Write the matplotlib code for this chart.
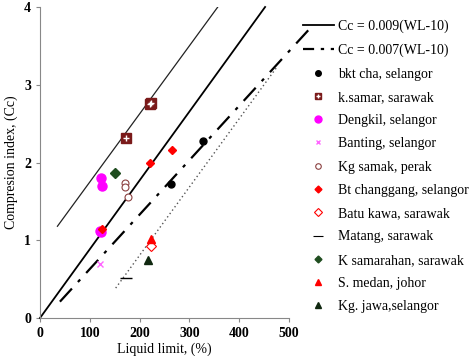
import matplotlib
matplotlib.use("Agg")
import matplotlib.pyplot as plt
from matplotlib.lines import Line2D
import numpy as np

plt.rcParams['font.family'] = ['Liberation Serif', 'DejaVu Serif']

# reference lines
solid_x = [0, 452]              # Cc = 0.009(WL-10)
solid_y = [0, 4.0]
wl_dashdot = [40, 540]          # Cc = 0.007(WL-10)
upper_x = [35, 357]
upper_y = [1.18, 4.0]
dotted_x = [152, 476]
dotted_y = [0.385, 3.23]

# data points (liquid limit, Cc)
bkt_cha_x = [327, 263]
bkt_cha_y = [2.28, 1.72]
ksamar_x = [221, 173, 223]
ksamar_y = [2.75, 2.32, 2.77]
dengkil_x = [122, 125, 123, 120]
dengkil_y = [1.80, 1.70, 1.10, 1.12]
banting_x = [121]
banting_y = [0.69]
kgsamak_x = [171, 171, 177]
kgsamak_y = [1.74, 1.68, 1.56]
btchang_x = [220, 265, 125]
btchang_y = [1.99, 2.16, 1.15]
batukawa_x = [222]
batukawa_y = [0.92]
matang_x = [173]
matang_y = [0.52]
ksamarahan_x = [151]
ksamarahan_y = [1.86]
smedan_x = [222]
smedan_y = [1.01]
kgjawa_x = [217]
kgjawa_y = [0.75]

fig = plt.figure(figsize=(4.74, 3.56), dpi=100)
ax = fig.add_axes([40 / 474, 1 - 318 / 356, 249 / 474, 311 / 356])

ax.plot(solid_x, solid_y, color='black', lw=1.3, clip_on=False)
xd = np.array(wl_dashdot)
ax.plot(xd, 0.007 * (xd - 10), color='black', lw=1.6,
        dashes=(8, 4, 1.5, 4), clip_on=False)
ax.plot(upper_x, upper_y, color='#222222', lw=0.9)
ax.plot(dotted_x, dotted_y, color='#555555', lw=1.0, dashes=(1, 2))

ms = 5
ax.plot(bkt_cha_x, bkt_cha_y, 'o', color='black', ms=ms)
ax.plot(ksamar_x, ksamar_y, 's', color='#7a1a1a', ms=7)
ax.plot(ksamar_x, ksamar_y, '+', color='white', ms=5, mew=1)
ax.plot(dengkil_x, dengkil_y, 'o', color='#ff00ff', ms=6.5)
ax.plot(banting_x, banting_y, 'x', color='#ff66ff', ms=4)
ax.plot(kgsamak_x, kgsamak_y, 'o', mfc='white', mec='#8b4040', ms=5, mew=0.8)
ax.plot(btchang_x, btchang_y, 'D', color='red', ms=4)
ax.plot(batukawa_x, batukawa_y, 'D', mfc='white', mec='red', ms=5, mew=0.8)
ax.plot(matang_x, matang_y, '_', color='black', ms=9, mew=1)
ax.plot(ksamarahan_x, ksamarahan_y, 'D', color='#1f4d1f', ms=5)
ax.plot(smedan_x, smedan_y, '^', color='red', ms=6)
ax.plot(kgjawa_x, kgjawa_y, '^', color='#102810', ms=6)

ax.set_xlim(0, 500)
ax.set_ylim(0, 4)
ax.set_xticks([0, 100, 200, 300, 400, 500])
ax.set_yticks([0, 1, 2, 3, 4])
for s in ['top', 'right']:
    ax.spines[s].set_visible(False)
for s in ['left', 'bottom']:
    ax.spines[s].set_color('#888888')
ax.tick_params(length=3, color='#888888', labelsize=10)
for lab in ax.get_xticklabels() + ax.get_yticklabels():
    lab.set_fontweight('bold')
ax.set_xlabel('Liquid limit, (%)', fontsize=10, labelpad=2)
ax.set_ylabel('Compresion index, (Cc)', fontsize=10, labelpad=4)

handles = [
    Line2D([], [], color='black', lw=1.3),
    Line2D([], [], color='black', lw=1.6, dashes=(5, 3, 1.5, 3, 1.5, 3)),
    Line2D([], [], ls='none', marker='o', color='black', ms=4),
    (Line2D([], [], ls='none', marker='s', color='#7a1a1a', ms=5),
     Line2D([], [], ls='none', marker='+', color='white', ms=3)),
    Line2D([], [], ls='none', marker='o', color='#ff00ff', ms=5),
    Line2D([], [], ls='none', marker='x', color='#ff66ff', ms=3),
    Line2D([], [], ls='none', marker='o', mfc='white', mec='#8b4040', ms=4, mew=0.8),
    Line2D([], [], ls='none', marker='D', color='red', ms=3.5),
    Line2D([], [], ls='none', marker='D', mfc='white', mec='red', ms=4, mew=0.8),
    Line2D([], [], ls='none', marker='_', color='black', ms=7, mew=0.8),
    Line2D([], [], ls='none', marker='D', color='#1f4d1f', ms=3.5),
    Line2D([], [], ls='none', marker='^', color='red', ms=5),
    Line2D([], [], ls='none', marker='^', color='#102810', ms=5),
]
labels = ['Cc = 0.009(WL-10)', 'Cc = 0.007(WL-10)', 'bkt cha, selangor',
          'k.samar, sarawak', 'Dengkil, selangor', 'Banting, selangor',
          'Kg samak, perak', 'Bt changgang, selangor', 'Batu kawa, sarawak',
          'Matang, sarawak', 'K samarahan, sarawak', 'S. medan, johor',
          'Kg. jawa,selangor']
fig.legend(handles, labels, loc='upper left', bbox_to_anchor=(303 / 474, 1 - 20 / 356),
           frameon=False, fontsize=10, handlelength=2.2, handletextpad=0.3,
           labelspacing=0.74, borderpad=0, borderaxespad=0)

fig.savefig('out.png', dpi=100)
